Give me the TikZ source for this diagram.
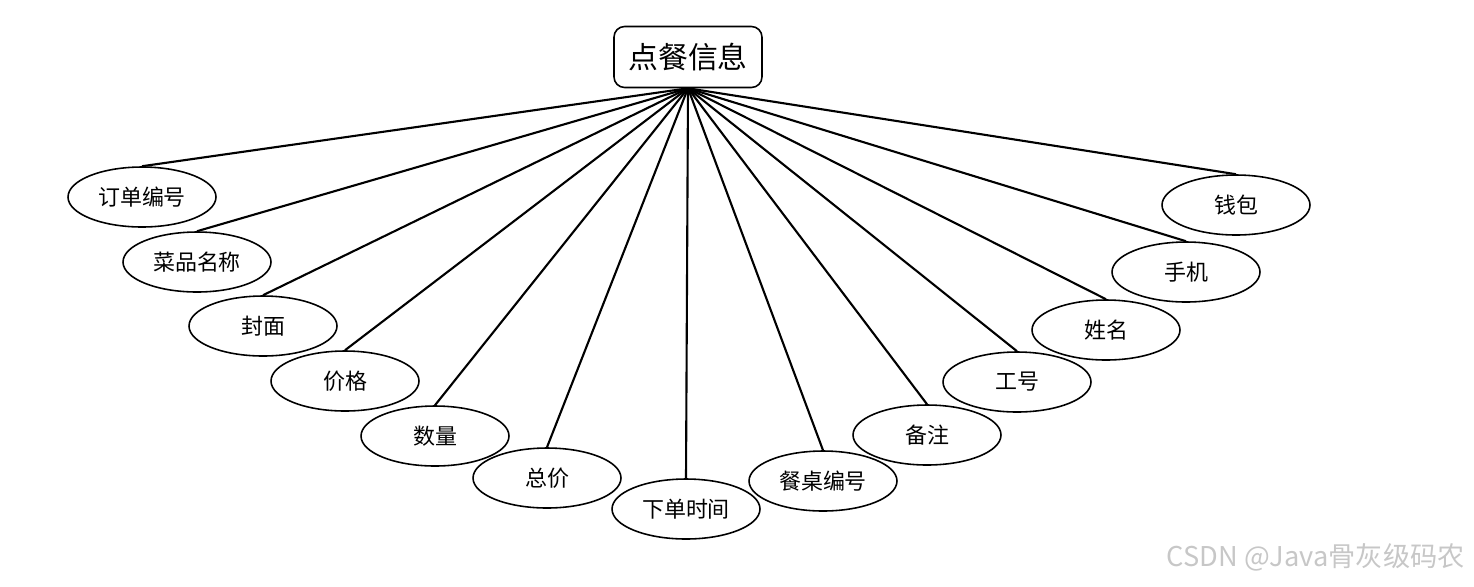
\documentclass[tikz,border=0pt]{standalone}
\usepackage{fontspec}
\newfontfamily\cjk{Noto Sans CJK SC}
\usepackage{tikz}
\usetikzlibrary{shapes.geometric,positioning}

\begin{document}
\begin{tikzpicture}[x=0.02cm, y=-0.02cm,
  every node/.style={align=center},
  font=\cjk\fontsize{12.5}{14}\selectfont,
  attr/.style={ellipse, draw, line width=0.9pt, minimum width=2.96cm,
               minimum height=1.2cm, inner sep=0pt},
  entity/.style={draw, rounded corners=6pt, line width=0.9pt,
                 minimum width=2.96cm, minimum height=1.22cm, inner sep=0pt,
                 font=\cjk\fontsize{17}{19}\selectfont},
  link/.style={line width=1.2pt}]
  \useasboundingbox (0,0) rectangle (1474,586);

  % entity
  \node[entity] (order) at (688,57) {点餐信息};

  % attributes, left to right
  \node[attr] (orderno)  at (142,197) {订单编号};
  \node[attr] (dishname) at (197,262) {菜品名称};
  \node[attr] (cover)    at (263,326) {封面};
  \node[attr] (price)    at (345,381) {价格};
  \node[attr] (amount)   at (435,436) {数量};
  \node[attr] (total)    at (547,478) {总价};
  \node[attr] (ordtime)  at (686,509) {下单时间};
  \node[attr] (tableno)  at (823,481) {餐桌编号};
  \node[attr] (remark)   at (927,435) {备注};
  \node[attr] (staffno)  at (1017,382) {工号};
  \node[attr] (name)     at (1106,330) {姓名};
  \node[attr] (phone)    at (1186,272) {手机};
  \node[attr] (wallet)   at (1236,205) {钱包};

  % links
  \draw[link] (order.south) -- (orderno.north);
  \draw[link] (order.south) -- (dishname.north);
  \draw[link] (order.south) -- (cover.north);
  \draw[link] (order.south) -- (price.north);
  \draw[link] (order.south) -- (amount.north);
  \draw[link] (order.south) -- (total.north);
  \draw[link] (order.south) -- (ordtime.north);
  \draw[link] (order.south) -- (tableno.north);
  \draw[link] (order.south) -- (remark.north);
  \draw[link] (order.south) -- (staffno.north);
  \draw[link] (order.south) -- (name.north);
  \draw[link] (order.south) -- (phone.north);
  \draw[link] (order.south) -- (wallet.north);

  % watermark
  \node[anchor=east, text=black!22, font=\cjk\fontsize{15.5}{17}\selectfont]
    (mark) at (1471,557) {CSDN @Java骨灰级码农};
\end{tikzpicture}
\end{document}
